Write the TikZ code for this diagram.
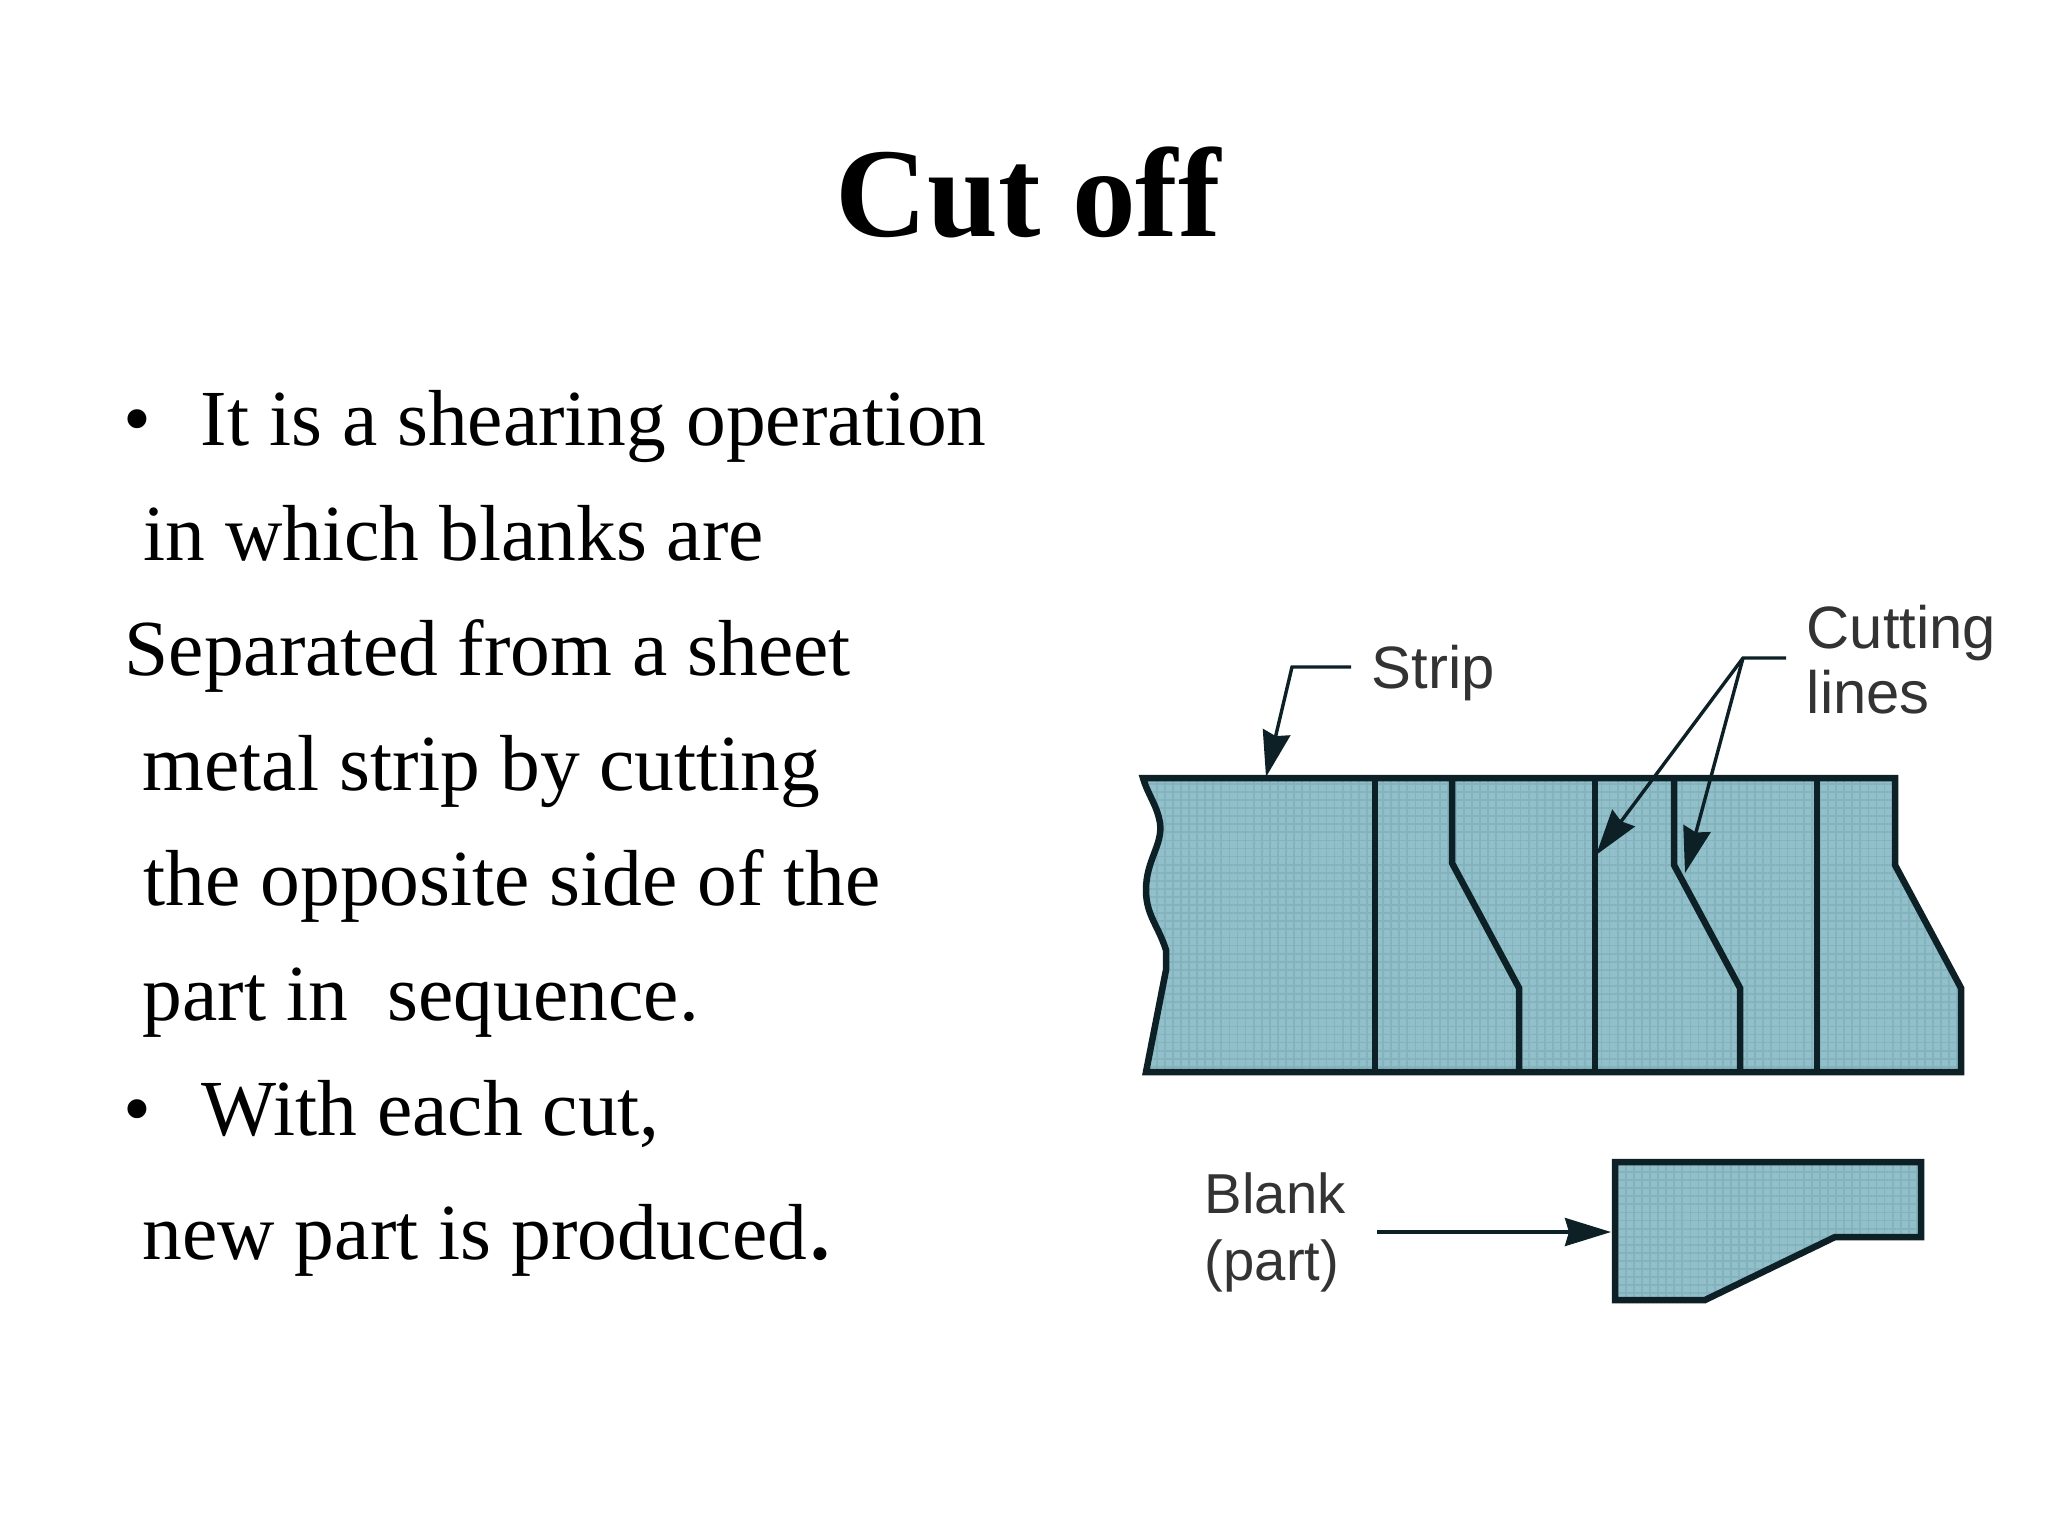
\documentclass[tikz,border=0pt]{standalone}
\usepackage{fontspec}
\setmainfont{Liberation Serif}
\newfontfamily\labelfont{Liberation Sans}
\usetikzlibrary{arrows.meta,patterns.meta}
\definecolor{sheetblue}{HTML}{92C0CA}
\definecolor{sheetgrain}{HTML}{84B3BE}
\definecolor{sheetedge}{HTML}{0C2026}
\definecolor{labelgray}{HTML}{333333}
\tikzset{
  title/.style={anchor=base, inner sep=0, font=\fontsize{36.2pt}{40pt}\selectfont\bfseries},
  body/.style={anchor=base west, inner sep=0, font=\fontsize{22.6pt}{26pt}\selectfont},
  tag/.style={anchor=base west, inner ysep=0, inner xsep=0.2cm, text=labelgray, font=\fontsize{16pt}{19pt}\selectfont\labelfont},
  bigtag/.style={tag, font=\fontsize{17pt}{19pt}\selectfont\labelfont},
  sheet/.style={draw=sheetedge, line width=0.065cm, line join=miter,
    preaction={fill=sheetblue},
    preaction={pattern={Lines[angle=0,distance=2.3pt,line width=0.5pt]}, pattern color=sheetgrain},
    preaction={pattern={Lines[angle=90,distance=2.3pt,line width=0.5pt]}, pattern color=sheetgrain}},
  cut/.style={draw=sheetedge, line width=0.065cm},
  leader/.style={draw=sheetedge, line width=0.034cm, -{Stealth[length=0.46cm, width=0.28cm, inset=0.04cm]}}
}
\begin{document}
\begin{tikzpicture}[x=0.01cm, y=-0.01cm]
  \fill[white] (0,0) rectangle (2048,1536);
  \useasboundingbox (0,0) rectangle (2048,1536);

  \node[title] (head) at (1028,236) {Cut off};

  \node[body] (b1) at (123,445)  {•};
  \node[body] (l1) at (200,445)  {It is a shearing operation};
  \node[body] (l2) at (143,560)  {in which blanks are};
  \node[body] (l3) at (124,675)  {Separated from a sheet};
  \node[body] (l4) at (142,790)  {metal strip by cutting};
  \node[body] (l5) at (143,905)  {the opposite side of the};
  \node[body] (l6) at (142,1020) {part in\ \ sequence.};
  \node[body] (b2) at (123,1135) {•};
  \node[body] (l7) at (201,1135) {With each cut,};
  \node[body] (l8) at (142,1259) {new part is produced\kern 1pt\textbf{.}};

  \draw[sheet] (1143,778) -- (1895,778) -- (1895,865) -- (1961,988) -- (1961,1072) -- (1146,1072)
    -- (1166,970) -- (1166,950) .. controls (1158,925) and (1146,915) .. (1146,890)
    .. controls (1146,860) and (1163,845) .. (1160,823) .. controls (1157,805) and (1148,795) .. (1143,778) -- cycle;
  \draw[cut] (1375,778) -- (1375,1072);
  \draw[cut] (1452,778) -- (1452,863) -- (1519,988) -- (1519,1072);
  \draw[cut] (1595,778) -- (1595,1072);
  \draw[cut] (1674,778) -- (1674,865) -- (1740,988) -- (1740,1072);
  \draw[cut] (1817,778) -- (1817,1072);

  \draw[sheet] (1615,1162) -- (1921,1162) -- (1921,1237) -- (1835,1237) -- (1705,1300) -- (1615,1300) -- cycle;

  \node[bigtag] (strip)   at (1351,688)  {Strip};
  \node[bigtag] (cutting) at (1786,648)  {Cutting};
  \node[bigtag] (lines)   at (1786,713)  {lines};
  \node[tag] (blank)   at (1184,1213) {Blank};
  \node[tag] (part)    at (1184,1280) {(part)};

  \coordinate (stripbend) at (1292,667);
  \coordinate (striptip)  at (1266,777);
  \coordinate (cutbend)   at (1743,658);
  \coordinate (cuttip1)   at (1596,855);
  \coordinate (cuttip2)   at (1685,873);
  \coordinate (blankfrom) at (1377,1232);
  \coordinate (blanktip)  at (1611,1232);

  \draw[leader] (strip.west |- stripbend) -- (stripbend) -- (striptip);
  \draw[leader] (cutting.west |- cutbend) -- (cutbend) -- (cuttip1);
  \draw[leader] (cutbend) -- (cuttip2);
  \draw[leader] (blankfrom) -- (blanktip);
\end{tikzpicture}
\end{document}
